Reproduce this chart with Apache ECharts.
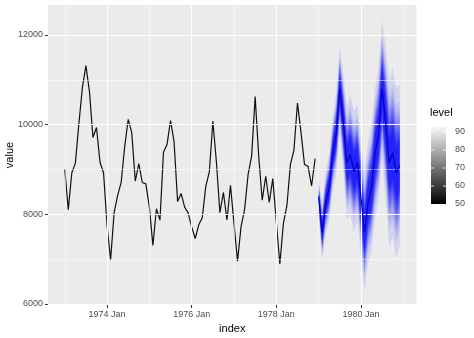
<!DOCTYPE html>
<html>
<head>
<meta charset="utf-8">
<script src="https://cdn.jsdelivr.net/npm/echarts@6/dist/echarts.min.js"></script>
<style>html,body{margin:0;padding:0;background:#fff}#c{width:474px;height:338px}</style>
</head>
<body>
<div id="c"></div>
<script>
// ---- data ----
const histStart = 1973;          // first observation: 1973 Jan (monthly)
const histValues = [
  9007, 8106, 8928, 9137, 10017, 10826, 11317, 10744, 9713, 9938, 9161, 8927,
  7750, 6981, 8038, 8422, 8714, 9512, 10120, 9823, 8743, 9129, 8710, 8680,
  8162, 7306, 8124, 7870, 9387, 9556, 10093, 9620, 8285, 8466, 8160, 8034,
  7717, 7461, 7767, 7925, 8623, 8945, 10078, 9179, 8037, 8488, 7874, 8647,
  7792, 6957, 7726, 8106, 8890, 9299, 10625, 9302, 8314, 8850, 8265, 8796,
  7836, 6892, 7791, 8192, 9115, 9434, 10484, 9827, 9110, 9070, 8633, 9240
];
const fcStart = 1979;            // first forecast: 1979 Jan
const fcMean = [
  8400, 7600, 8250, 8600, 9350, 9800, 10800, 10050, 9150, 9330, 8950, 9150,
  8380, 7600, 8250, 8600, 9350, 9800, 10800, 10050, 9150, 9370, 8920, 9100
];
// half width of the 99% interval, read from the outer edge of the fan
const fcHalf99 = [
  420, 640, 700, 760, 830, 900, 950, 1100, 1250, 1350, 1350, 1300,
  1300, 1320, 1360, 1420, 1470, 1510, 1550, 1700, 1850, 1900, 1900, 1800
];
const levels = [51, 54, 57, 60, 63, 66, 69, 72, 75, 78, 81, 84, 87, 90, 93, 96, 99];
// standard normal quantiles for the two-sided levels above
const zLevels = [0.690, 0.739, 0.789, 0.842, 0.896, 0.954, 1.015, 1.080, 1.150,
                 1.227, 1.311, 1.405, 1.514, 1.645, 1.812, 2.054, 2.576];
const xTickYears = [1974, 1976, 1978, 1980];
const xMinorYears = [1973, 1975, 1977, 1979, 1981];
const yTicks = [6000, 8000, 10000, 12000];
const yMinor = [7000, 9000, 11000];
const legendLabels = [50, 60, 70, 80, 90];

// ---- build ----
const histData = histValues.map((v, i) => [histStart + i / 12, v]);
const fcData = fcMean.map((v, i) => [fcStart + i / 12, v]);

const xMin = 1972.604, xMax = 1981.313, yMin = 5978, yMax = 12669;

const gridLines = [];
xTickYears.forEach(v => gridLines.push({xAxis: v, lineStyle: {width: 1.1}}));
xMinorYears.forEach(v => gridLines.push({xAxis: v, lineStyle: {width: 0.5}}));
yTicks.forEach(v => gridLines.push({yAxis: v, lineStyle: {width: 1.1}}));
yMinor.forEach(v => gridLines.push({yAxis: v, lineStyle: {width: 0.5}}));

const fanItems = levels.map((l, i) => [1977, 9000, levels.length - 1 - i]); // outer first

const chart = echarts.init(document.getElementById('c'), null, {renderer: 'canvas'});
const FONT = 'Liberation Sans, Arial, sans-serif';
const axisLabelStyle = {color: '#4d4d4d', fontSize: 9, fontFamily: FONT};
chart.setOption({
  animation: false,
  grid: {left: 48, right: 57.5, top: 5, bottom: 33, show: true, backgroundColor: '#ebebeb',
         borderWidth: 0, containLabel: false, outerBoundsMode: 'none'},
  xAxis: {
    type: 'value', min: xMin, max: xMax,
    name: 'index', nameLocation: 'middle', nameGap: 15,
    nameTextStyle: {color: '#000', fontSize: 11, fontFamily: FONT},
    axisLine: {show: false},
    splitLine: {show: false},
    axisTick: {show: true, length: 3, lineStyle: {color: '#333', width: 1}, customValues: xTickYears},
    axisLabel: Object.assign({customValues: xTickYears, margin: 5,
      formatter: v => Math.round(v) + ' Jan'}, axisLabelStyle)
  },
  yAxis: {
    type: 'value', min: yMin, max: yMax,
    name: '', 
    axisLine: {show: false},
    splitLine: {show: false},
    axisTick: {show: true, length: 3, lineStyle: {color: '#333', width: 1}, customValues: yTicks},
    axisLabel: Object.assign({customValues: yTicks, margin: 5, formatter: v => String(Math.round(v))}, axisLabelStyle)
  },
  series: [
    {
      type: 'line', data: [], z: 1, silent: true,
      markLine: {silent: true, symbol: ['none', 'none'], label: {show: false},
        lineStyle: {color: '#ffffff', type: 'solid'}, data: gridLines, animation: false}
    },
    {
      type: 'custom', z: 3, silent: true,
      data: fanItems,
      encode: {x: 0, y: 1},
      renderItem: function (params, api) {
        const li = api.value(2);
        const f = zLevels[li] / zLevels[zLevels.length - 1];
        const up = [], lo = [];
        for (let i = 0; i < fcMean.length; i++) {
          const x = fcStart + i / 12;
          up.push(api.coord([x, fcMean[i] + fcHalf99[i] * f]));
          lo.push(api.coord([x, fcMean[i] - fcHalf99[i] * f]));
        }
        const pts = up.concat(lo.reverse());
        return {type: 'polygon', shape: {points: pts}, style: {fill: 'rgba(0,0,255,0.1)'}};
      }
    },
    {
      type: 'line', data: histData, z: 4, symbol: 'none', silent: true,
      lineStyle: {color: '#111', width: 1.2}
    },
    {
      type: 'line', data: fcData, z: 5, symbol: 'none', silent: true,
      lineStyle: {color: '#0000cc', width: 1.2}
    }
  ],
  graphic: (function () {
    const els = [];
    const barX = 431, barW = 15, barTop = 127, barBot = 204;
    els.push({type: 'text', x: 10, y: 155, rotation: Math.PI / 2,
      style: {text: 'value', fill: '#000', fontSize: 11, fontFamily: FONT, align: 'center', verticalAlign: 'middle'}});
    els.push({type: 'text', x: 430, y: 107, style: {text: 'level', fill: '#000', fontSize: 11, fontFamily: FONT}});
    els.push({type: 'rect', shape: {x: barX, y: barTop, width: barW, height: barBot - barTop},
      style: {fill: new echarts.graphic.LinearGradient(0, 0, 0, 1, [
        {offset: 0, color: '#f7f7f7'}, {offset: 1, color: '#000000'}])}});
    legendLabels.forEach(v => {
      const y = barBot - (v - 50) * 1.8;
      els.push({type: 'text', x: 455, y: y, style: {text: String(v), fill: '#4d4d4d', fontSize: 9,
        fontFamily: FONT, verticalAlign: 'middle'}});
      if (v > 50) {
        els.push({type: 'line', shape: {x1: barX, y1: y, x2: barX + 3, y2: y}, style: {stroke: '#fff', lineWidth: 0.8}});
        els.push({type: 'line', shape: {x1: barX + barW - 3, y1: y, x2: barX + barW, y2: y}, style: {stroke: '#fff', lineWidth: 0.8}});
      }
    });
    return els;
  })()
});
</script>
</body>
</html>
